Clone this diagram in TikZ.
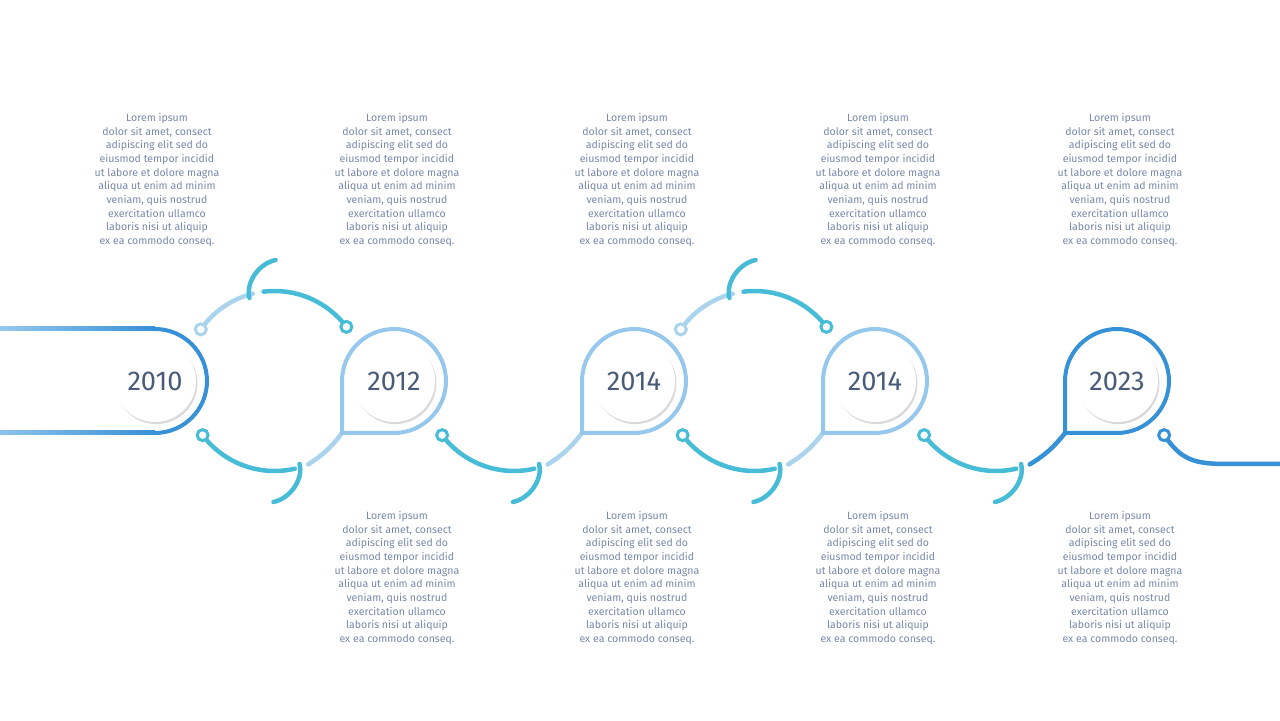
\documentclass[tikz,border=0pt]{standalone}
\usepackage{fontspec}
\setmainfont{Fira Sans}
\usetikzlibrary{calc, shadows}
\definecolor{pinblue}{RGB}{150,200,238}
\definecolor{deepblue}{RGB}{55,145,215}
\definecolor{tealline}{RGB}{70,188,214}
\definecolor{paleline}{RGB}{170,212,238}
\definecolor{yeargray}{RGB}{72,92,122}
\definecolor{loremgray}{RGB}{120,136,170}

\newcommand{\loremtext}{Lorem ipsum\\ dolor sit amet, consect\\ adipiscing elit sed do\\
  eiusmod tempor incidid\\ ut labore et dolore magna\\ aliqua ut enim ad minim\\
  veniam, quis nostrud\\ exercitation ullamco\\ laboris nisi ut aliquip\\ ex ea commodo conseq.}

\begin{document}
\begin{tikzpicture}[x=0.02cm, y=0.02cm,
    loremblock/.style={align=center, text=loremgray, font=\fontsize{6}{7.8}\selectfont},
    yeardisc/.style={circle, fill=white, minimum size=1.64cm, inner sep=0pt,
        text=yeargray, font=\fontsize{15.5}{15.5}\selectfont,
        drop shadow={shadow xshift=0.8pt, shadow yshift=-1.2pt, opacity=0.3}},
    pinline/.style={line width=0.08cm, line join=round},
    wave/.style={line width=0.09cm, line cap=round},
    ring/.style={circle, draw, fill=white, line width=0.06cm, minimum size=0.22cm, inner sep=0pt}
]
\useasboundingbox (0,0) rectangle (1280,720);

% --- text blocks ---
\node[loremblock] (top1) at (157,540) {\loremtext};
\node[loremblock] (top2) at (397,540) {\loremtext};
\node[loremblock] (top3) at (637,540) {\loremtext};
\node[loremblock] (top4) at (878,540) {\loremtext};
\node[loremblock] (top5) at (1120,540) {\loremtext};
\node[loremblock] (bot2) at (397,142) {\loremtext};
\node[loremblock] (bot3) at (637,142) {\loremtext};
\node[loremblock] (bot4) at (878,142) {\loremtext};
\node[loremblock] (bot5) at (1120,142) {\loremtext};

% --- gap centres ---
\coordinate (g1) at (274.5,339);
\coordinate (g2) at (514,339);
\coordinate (g3) at (754.5,339);
\coordinate (g4) at (996,339);
\coordinate (g5) at (1236,339);

% --- year centres and pin corners ---
\coordinate (c2010) at (155,339);
\coordinate (c2012) at (394,339);
\coordinate (c2014a) at (634,339);
\coordinate (c2014b) at (875,339);
\coordinate (c2023) at (1117,339);
\coordinate (k2012) at ($(c2012)+(-1.04cm,-1.04cm)$);
\coordinate (k2014a) at ($(c2014a)+(-1.04cm,-1.04cm)$);
\coordinate (k2014b) at ($(c2014b)+(-1.04cm,-1.04cm)$);
\coordinate (k2023) at ($(c2023)+(-1.04cm,-1.04cm)$);

% --- upper waves ---
\foreach \g in {g1, g3} {
    \draw[wave, paleline] ($(\g)+(145:1.8cm)$) arc (145:104:1.8cm);
    \draw[wave, tealline] ($(\g)+(97:1.8cm)$) arc (97:37:1.8cm);
    \draw[wave, tealline] ($(\g)+(1,121)$) .. controls +(-18,-4) and +(-4,14) .. ($(\g)+(-25,83)$);
}

% --- lower waves ---
\foreach \g/\k/\c in {g1/k2012/paleline, g2/k2014a/paleline, g3/k2014b/paleline, g4/k2023/deepblue} {
    \draw[wave, tealline] ($(\g)+(217:1.8cm)$) arc (217:283:1.8cm);
    \draw[wave, tealline] ($(\g)+(-1,-121)$) .. controls +(18,4) and +(4,-14) .. ($(\g)+(25,-83)$);
    \draw[wave, \c] ($(\g)+(292:1.8cm)$) to[bend right=10] (\k);
}
\draw[wave, deepblue] ($(g5)+(217:1.8cm)$) .. controls +(-55:0.6cm) and +(180:0.7cm) .. (1228,256) -- (1280,256);

% --- start bar ---
\shade[left color=pinblue, right color=deepblue] (0,389) rectangle (155,393);
\shade[left color=pinblue!90!deepblue, right color=deepblue] (0,285) rectangle (155,289);
\draw[pinline, deepblue] (155,391) arc (90:-90:1.04cm);

% --- pins ---
\foreach \c/\col in {c2012/pinblue, c2014a/pinblue, c2014b/pinblue, c2023/deepblue} {
    \draw[pinline, \col] ($(\c)+(-1.04cm,0)$) arc (180:-90:1.04cm) -- ++(-1.04cm,0) -- cycle;
}

% --- rings ---
\node[ring, draw=paleline] (r1a) at ($(g1)+(145:1.8cm)$) {};
\node[ring, draw=tealline] (r1b) at ($(g1)+(37:1.8cm)$) {};
\node[ring, draw=tealline] (r1c) at ($(g1)+(217:1.8cm)$) {};
\node[ring, draw=tealline] (r2c) at ($(g2)+(217:1.8cm)$) {};
\node[ring, draw=paleline] (r3a) at ($(g3)+(145:1.8cm)$) {};
\node[ring, draw=tealline] (r3b) at ($(g3)+(37:1.8cm)$) {};
\node[ring, draw=tealline] (r3c) at ($(g3)+(217:1.8cm)$) {};
\node[ring, draw=tealline] (r4c) at ($(g4)+(217:1.8cm)$) {};
\node[ring, draw=deepblue] (r5c) at ($(g5)+(217:1.8cm)$) {};

% --- years ---
\node[yeardisc] (y2010) at (c2010) {2010};
\node[yeardisc] (y2012) at (c2012) {2012};
\node[yeardisc] (y2014a) at (c2014a) {2014};
\node[yeardisc] (y2014b) at (c2014b) {2014};
\node[yeardisc] (y2023) at (c2023) {2023};
\end{tikzpicture}
\end{document}
